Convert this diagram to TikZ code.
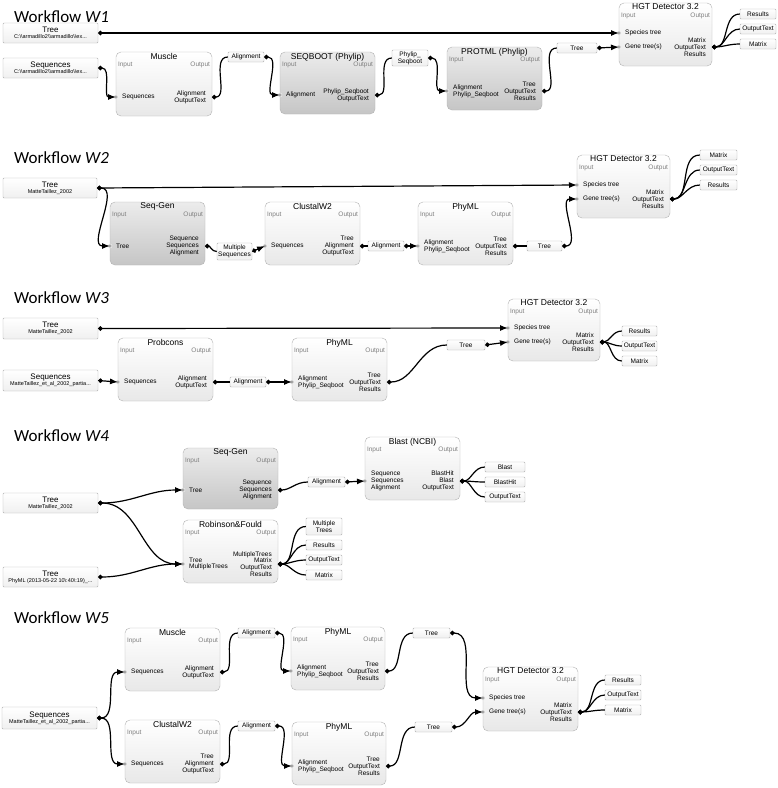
\documentclass[tikz,border=0pt]{standalone}
\usepackage{fontspec}
\setmainfont{Liberation Sans}
\newfontfamily\ttlfont{Carlito}
\usetikzlibrary{arrows.meta}
\tikzset{
 light/.style={draw=gray!60, rounded corners=5pt, top color=white, bottom color=gray!18, inner sep=0pt},
 dark/.style={draw=gray!60, rounded corners=5pt, top color=gray!15, bottom color=gray!45, inner sep=0pt},
 mtitle/.style={font=\fontsize{8.5}{8.5}\selectfont, inner sep=1pt},
 io/.style={font=\fontsize{6.5}{6.5}\selectfont, text=gray, inner sep=1pt},
 lbl/.style={font=\fontsize{6.5}{6.8}\selectfont, inner sep=0pt},
 data/.style={draw=gray!60, rounded corners=1pt, top color=white, bottom color=gray!12, inner sep=0pt, align=center, font=\fontsize{6.5}{6.8}\selectfont},
 conn/.style={line width=1.2pt},
 ca/.style={conn, {Circle[length=4.5pt]}-{Latex[length=8pt,width=6pt]}},
 co/.style={conn, {Circle[length=4.5pt]}-},
 wtitle/.style={font=\ttlfont\fontsize{17}{17}\selectfont, anchor=west, inner sep=0pt},
 port/.style={fill=gray!70, draw=white, line width=0.4pt}
}
\newcommand\wfmod[9]{%
 \node[#7, minimum width={(#4-#2)*1pt}, minimum height={(#5-#3)*1pt}] (#1) at ({(#2+#4)/2},{(#3+#5)/2}) {};
 \coordinate (#1-in) at (#2,#5-19);
 \coordinate (#1-out) at (#4,#5-19);
 \coordinate (#1-sp) at (#2,#5-33);
 \node[mtitle, anchor=north] at (#1.north) {#6};
 \node[io, anchor=north west] at ([xshift=1pt,yshift=-9pt]#1.north west) {Input};
 \node[io, anchor=north east] at ([xshift=-1pt,yshift=-9pt]#1.north east) {Output};
 \node[lbl, anchor=west, align=left] at ([xshift=6pt]#1-in) {#8};
 \node[lbl, anchor=east, align=right] at ([xshift=-6pt]#1-out) {#9};
 \path[port] (#1-in) circle (2pt);
}
\newcommand\dnode[6]{%
 \node[data, minimum width={(#4-#2)*1pt}, minimum height={(#5-#3)*1pt}] (#1) at ({(#2+#4)/2},{(#3+#5)/2}) {#6};
}
\newcommand\srcnode[7]{%
 \node[data, minimum width={(#4-#2)*1pt}, minimum height={(#5-#3)*1pt}] (#1) at ({(#2+#4)/2},{(#3+#5)/2}) {\fontsize{8}{8.5}\selectfont #6\\[-0.5pt]\fontsize{5.5}{5.5}\selectfont #7};
}
\newcommand\hgt[5]{%
 \wfmod{#1}{#2}{#3}{#4}{#5}{HGT Detector 3.2}{light}{Gene tree(s)}{Matrix\\OutputText\\Results}
 \node[lbl, anchor=west] at ([xshift=6pt]#1-sp) {Species tree};
 \path[port] (#1-sp) circle (2pt);
}
\newcommand\bs{\textbackslash}
\begin{document}
\begin{tikzpicture}[x=1pt,y=-1pt]
\useasboundingbox[fill=white] (0,0) rectangle (778,788);
% ---------------- W1
\node[wtitle] (t1) at (14,17) {Workflow \textit{W1}};
\srcnode{tree1}{3}{23}{98}{43}{Tree}{C:\bs\bs armadillo2\bs\bs armadillo\bs\bs ex...}
\srcnode{seq1}{3}{58}{98}{78}{Sequences}{C:\bs\bs armadillo2\bs\bs armadillo\bs\bs ex...}
\wfmod{muscle1}{116}{52}{212}{116}{Muscle}{light}{Sequences}{Alignment\\OutputText}
\dnode{al1}{228}{52}{264}{62}{Alignment}
\wfmod{seqboot1}{280}{52}{375}{114}{SEQBOOT (Phylip)}{dark}{Alignment}{Phylip\_Seqboot\\OutputText}
\dnode{ps1}{392}{50}{428}{66}{Phylip\_\\Seqboot}
\wfmod{protml1}{447}{47}{542}{110}{PROTML (Phylip)}{dark}{Alignment\\Phylip\_Seqboot}{Tree\\OutputText\\Results}
\dnode{tr1}{557}{43}{597}{53}{Tree}
\hgt{hgt1}{619}{3}{712}{66}
\dnode{r1a}{740}{9}{776}{19}{Results}
\dnode{r1b}{740}{24}{776}{34}{OutputText}
\dnode{r1c}{740}{39}{776}{49}{Matrix}
\draw[ca] (tree1.east) -- (hgt1-sp);
\draw[ca] (seq1.east) to[out=0,in=180] (muscle1-in);
\draw[co] (muscle1-out) to[out=0,in=180] (al1.west);
\draw[ca] (al1.east) to[out=0,in=180] (seqboot1-in);
\draw[co] (seqboot1-out) to[out=0,in=180] (ps1.west);
\draw[ca] (ps1.east) to[out=0,in=180] (protml1-in);
\draw[co] (protml1-out) to[out=0,in=180] (tr1.west);
\draw[ca] (tr1.east) -- (hgt1-in);
\draw[co] (hgt1-out) to[out=0,in=180] (r1a.west);
\draw[co] (hgt1-out) to[out=0,in=180] (r1b.west);
\draw[co] (hgt1-out) to[out=0,in=180] (r1c.west);
% ---------------- W2
\node[wtitle] (t2) at (14,158) {Workflow \textit{W2}};
\srcnode{tree2}{3}{178}{97}{198}{Tree}{MatteTaillez\_2002}
\wfmod{seqgen2}{110}{202}{205}{265}{Seq-Gen}{dark}{Tree}{Sequence\\Sequences\\Alignment}
\dnode{ms2}{217}{243}{252}{260}{Multiple\\Sequences}
\wfmod{clustal2}{265}{202}{360}{265}{ClustalW2}{light}{Sequences}{Tree\\Alignment\\OutputText}
\dnode{al2}{368}{241}{404}{251}{Alignment}
\wfmod{phyml2}{418}{202}{513}{265}{PhyML}{light}{Alignment\\Phylip\_Seqboot}{Tree\\OutputText\\Results}
\dnode{tr2}{527}{241}{562}{251}{Tree}
\hgt{hgt2}{577}{155}{670}{218}
\dnode{r2a}{700}{150}{737}{160}{Matrix}
\dnode{r2b}{700}{165}{737}{175}{OutputText}
\dnode{r2c}{700}{180}{737}{190}{Results}
\draw[ca] (tree2.east) -- (hgt2-sp);
\draw[ca] (tree2.east) to[out=0,in=180] (seqgen2-in);
\draw[co] (seqgen2-out) to[out=0,in=180] (ms2.west);
\draw[ca] (ms2.east) -- (clustal2-in);
\draw[co] (clustal2-out) -- (al2.west);
\draw[ca] (al2.east) -- (phyml2-in);
\draw[co] (phyml2-out) -- (tr2.west);
\draw[ca] (tr2.east) to[out=0,in=180] (hgt2-in);
\draw[co] (hgt2-out) to[out=0,in=180] (r2a.west);
\draw[co] (hgt2-out) to[out=0,in=180] (r2b.west);
\draw[co] (hgt2-out) to[out=0,in=180] (r2c.west);
% ---------------- W3
\node[wtitle] (t3) at (14,298) {Workflow \textit{W3}};
\srcnode{tree3}{3}{318}{98}{339}{Tree}{MatteTaillez\_2002}
\srcnode{seq3}{3}{370}{98}{391}{Sequences}{MatteTaillez\_et\_al\_2002\_partia...}
\wfmod{probcons3}{118}{338}{213}{401}{Probcons}{light}{Sequences}{Alignment\\OutputText}
\dnode{al3}{230}{377}{266}{387}{Alignment}
\wfmod{phyml3}{292}{338}{387}{401}{PhyML}{light}{Alignment\\Phylip\_Seqboot}{Tree\\OutputText\\Results}
\dnode{tr3}{447}{340}{485}{350}{Tree}
\hgt{hgt3}{508}{299}{600}{361}
\dnode{r3a}{622}{326}{657}{336}{Results}
\dnode{r3b}{622}{341}{657}{351}{OutputText}
\dnode{r3c}{622}{356}{657}{366}{Matrix}
\draw[ca] (tree3.east) -- (hgt3-sp);
\draw[ca] (seq3.east) -- (probcons3-in);
\draw[co] (probcons3-out) -- (al3.west);
\draw[ca] (al3.east) -- (phyml3-in);
\draw[co] (phyml3-out) to[out=0,in=180] (tr3.west);
\draw[ca] (tr3.east) -- (hgt3-in);
\draw[co] (hgt3-out) to[out=0,in=180] (r3a.west);
\draw[co] (hgt3-out) to[out=0,in=180] (r3b.west);
\draw[co] (hgt3-out) to[out=0,in=180] (r3c.west);
% ---------------- W4
\node[wtitle] (t4) at (14,436) {Workflow \textit{W4}};
\wfmod{seqgen4}{183}{448}{278}{509}{Seq-Gen}{dark}{Tree}{Sequence\\Sequences\\Alignment}
\dnode{al4}{308}{477}{345}{487}{Alignment}
\wfmod{blast4}{365}{437}{460}{500}{Blast (NCBI)}{light}{Sequence\\Sequences\\Alignment}{BlastHit\\Blast\\OutputText}
\dnode{r4a}{485}{462}{525}{472}{Blast}
\dnode{r4b}{485}{477}{525}{487}{BlastHit}
\dnode{r4c}{485}{492}{525}{502}{OutputText}
\srcnode{tree4}{3}{493}{98}{513}{Tree}{MatteTaillez\_2002}
\wfmod{rf4}{183}{520}{278}{583}{Robinson\&Fould}{light}{Tree\\MultipleTrees}{MultipleTrees\\Matrix\\OutputText\\Results}
\dnode{r4d}{306}{518}{342}{535}{Multiple\\Trees}
\dnode{r4e}{306}{540}{342}{550}{Results}
\dnode{r4f}{306}{555}{342}{565}{OutputText}
\dnode{r4g}{306}{570}{342}{580}{Matrix}
\srcnode{tree4b}{3}{567}{98}{587}{Tree}{PhyML (2013-05-22 10\bs:40\bs:19)\_...}
\draw[ca] (tree4.east) to[out=0,in=180] (seqgen4-in);
\draw[ca] (tree4.east) to[out=0,in=180] (rf4-in);
\draw[ca] (tree4b.east) to[out=0,in=180] (rf4-in);
\draw[co] (seqgen4-out) to[out=0,in=180] (al4.west);
\draw[ca] (al4.east) -- (blast4-in);
\draw[co] (blast4-out) to[out=0,in=180] (r4a.west);
\draw[co] (blast4-out) to[out=0,in=180] (r4b.west);
\draw[co] (blast4-out) to[out=0,in=180] (r4c.west);
\draw[co] (rf4-out) to[out=0,in=180] (r4d.west);
\draw[co] (rf4-out) to[out=0,in=180] (r4e.west);
\draw[co] (rf4-out) to[out=0,in=180] (r4f.west);
\draw[co] (rf4-out) to[out=0,in=180] (r4g.west);
% ---------------- W5
\node[wtitle] (t5) at (14,618) {Workflow \textit{W5}};
\wfmod{muscle5}{125}{628}{220}{691}{Muscle}{light}{Sequences}{Alignment\\OutputText}
\dnode{al5}{238}{628}{275}{638}{Alignment}
\wfmod{phyml5}{291}{627}{385}{690}{PhyML}{light}{Alignment\\Phylip\_Seqboot}{Tree\\OutputText\\Results}
\dnode{tr5}{413}{628}{450}{638}{Tree}
\srcnode{seq5}{2}{707}{97}{729}{Sequences}{MatteTaillez\_et\_al\_2002\_partia...}
\wfmod{clustal5}{125}{720}{220}{783}{ClustalW2}{light}{Sequences}{Tree\\Alignment\\OutputText}
\dnode{al5b}{238}{721}{275}{731}{Alignment}
\wfmod{phyml5b}{292}{722}{386}{785}{PhyML}{light}{Alignment\\Phylip\_Seqboot}{Tree\\OutputText\\Results}
\dnode{tr5b}{415}{722}{452}{732}{Tree}
\hgt{hgt5}{483}{667}{578}{731}
\dnode{r5a}{605}{675}{641}{685}{Results}
\dnode{r5b}{605}{690}{641}{700}{OutputText}
\dnode{r5c}{605}{705}{641}{715}{Matrix}
\draw[ca] (seq5.east) to[out=0,in=180] (muscle5-in);
\draw[ca] (seq5.east) to[out=0,in=180] (clustal5-in);
\draw[co] (muscle5-out) to[out=0,in=180] (al5.west);
\draw[ca] (al5.east) to[out=0,in=180] (phyml5-in);
\draw[co] (phyml5-out) to[out=0,in=180] (tr5.west);
\draw[ca] (tr5.east) to[out=0,in=180] (hgt5-sp);
\draw[co] (clustal5-out) to[out=0,in=180] (al5b.west);
\draw[ca] (al5b.east) to[out=0,in=180] (phyml5b-in);
\draw[co] (phyml5b-out) to[out=0,in=180] (tr5b.west);
\draw[ca] (tr5b.east) to[out=0,in=180] (hgt5-in);
\draw[co] (hgt5-out) to[out=0,in=180] (r5a.west);
\draw[co] (hgt5-out) to[out=0,in=180] (r5b.west);
\draw[co] (hgt5-out) to[out=0,in=180] (r5c.west);
\end{tikzpicture}
\end{document}
